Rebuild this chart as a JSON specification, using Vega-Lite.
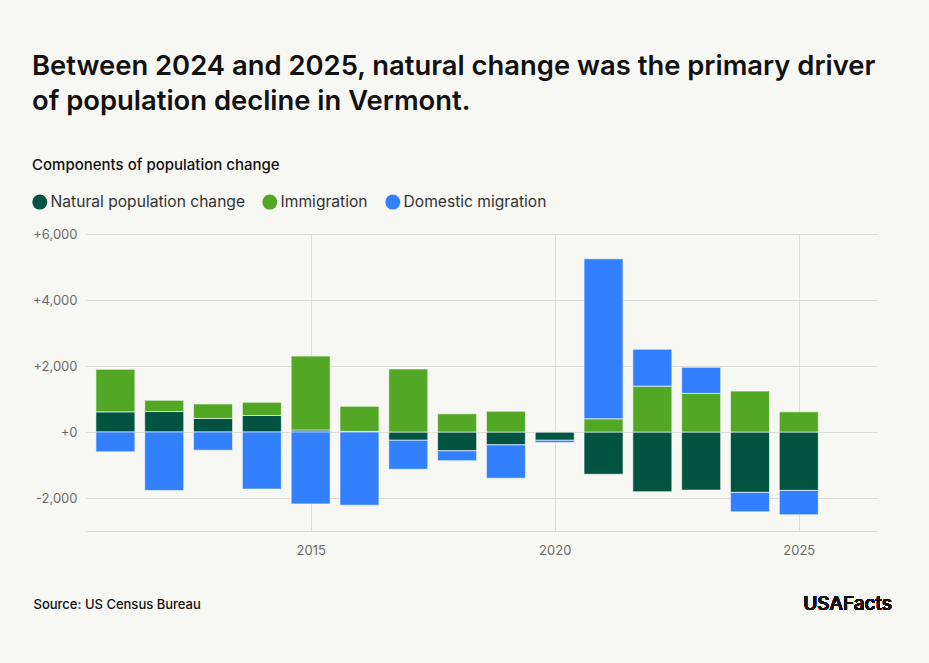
{
  "$schema": "https://vega.github.io/schema/vega-lite/v6.json",
  "width": 791,
  "height": 297,
  "autosize": {"type": "none"},
  "padding": {"left": 86, "top": 234, "right": 52, "bottom": 132},
  "background": "#F7F7F3",
  "title": {
    "text": ["Between 2024 and 2025, natural change was the primary driver", "of population decline in Vermont."],
    "anchor": "start",
    "frame": "bounds",
    "font": "Inter",
    "fontSize": 27.4,
    "fontWeight": 600,
    "color": "#111111",
    "lineHeight": 35,
    "offset": 43
  },
  "config": {
    "view": {"stroke": null},
    "font": "Inter",
    "axis": {
      "labelFont": "Inter",
      "labelFontSize": 13,
      "labelColor": "#6b6b6b",
      "gridColor": "#dcdcd8",
      "domainColor": "#dcdcd8",
      "ticks": false
    }
  },
  "data": {
    "values": [
      {"year": 2011, "component": "Natural population change", "value": 610},
      {"year": 2011, "component": "Immigration", "value": 1290},
      {"year": 2011, "component": "Domestic migration", "value": -600},
      {"year": 2012, "component": "Natural population change", "value": 620},
      {"year": 2012, "component": "Immigration", "value": 340},
      {"year": 2012, "component": "Domestic migration", "value": -1770},
      {"year": 2013, "component": "Natural population change", "value": 410},
      {"year": 2013, "component": "Immigration", "value": 440},
      {"year": 2013, "component": "Domestic migration", "value": -550},
      {"year": 2014, "component": "Natural population change", "value": 500},
      {"year": 2014, "component": "Immigration", "value": 400},
      {"year": 2014, "component": "Domestic migration", "value": -1730},
      {"year": 2015, "component": "Natural population change", "value": 60},
      {"year": 2015, "component": "Immigration", "value": 2240},
      {"year": 2015, "component": "Domestic migration", "value": -2180},
      {"year": 2016, "component": "Natural population change", "value": 20},
      {"year": 2016, "component": "Immigration", "value": 760},
      {"year": 2016, "component": "Domestic migration", "value": -2220},
      {"year": 2017, "component": "Natural population change", "value": -250},
      {"year": 2017, "component": "Immigration", "value": 1910},
      {"year": 2017, "component": "Domestic migration", "value": -880},
      {"year": 2018, "component": "Natural population change", "value": -570},
      {"year": 2018, "component": "Immigration", "value": 550},
      {"year": 2018, "component": "Domestic migration", "value": -300},
      {"year": 2019, "component": "Natural population change", "value": -390},
      {"year": 2019, "component": "Immigration", "value": 630},
      {"year": 2019, "component": "Domestic migration", "value": -1010},
      {"year": 2020, "component": "Natural population change", "value": -250},
      {"year": 2020, "component": "Immigration", "value": 10},
      {"year": 2020, "component": "Domestic migration", "value": -70},
      {"year": 2021, "component": "Natural population change", "value": -1280},
      {"year": 2021, "component": "Immigration", "value": 400},
      {"year": 2021, "component": "Domestic migration", "value": 4850},
      {"year": 2022, "component": "Natural population change", "value": -1810},
      {"year": 2022, "component": "Immigration", "value": 1390},
      {"year": 2022, "component": "Domestic migration", "value": 1120},
      {"year": 2023, "component": "Natural population change", "value": -1760},
      {"year": 2023, "component": "Immigration", "value": 1170},
      {"year": 2023, "component": "Domestic migration", "value": 790},
      {"year": 2024, "component": "Natural population change", "value": -1830},
      {"year": 2024, "component": "Immigration", "value": 1240},
      {"year": 2024, "component": "Domestic migration", "value": -590},
      {"year": 2025, "component": "Natural population change", "value": -1770},
      {"year": 2025, "component": "Immigration", "value": 610},
      {"year": 2025, "component": "Domestic migration", "value": -740}
    ]
  },
  "layer": [
    {
      "mark": {"type": "bar", "width": 39, "stroke": "#ffffff", "strokeWidth": 1, "strokeOpacity": 0.6},
      "encoding": {
        "x": {
          "field": "year",
          "type": "quantitative",
          "scale": {"domain": [2010.5, 2026.5], "nice": false, "zero": false},
          "axis": {
            "values": [2015, 2020, 2025],
            "format": "d",
            "grid": true,
            "domain": true,
            "labelPadding": 13,
            "title": "Source: US Census Bureau",
            "titleFont": "Inter",
            "titleFontSize": 13,
            "titleFontWeight": 500,
            "titleColor": "#111111",
            "titleAnchor": "start",
            "titleAlign": "left",
            "titleBaseline": "middle",
            "titleX": -53,
            "titleY": 73
          }
        },
        "y": {
          "field": "value",
          "type": "quantitative",
          "stack": "zero",
          "scale": {"domain": [-3000, 6000], "nice": false},
          "axis": {
            "values": [-2000, 0, 2000, 4000, 6000],
            "labelExpr": "datum.value > 0 ? '+' + format(datum.value, ',') : (datum.value == 0 ? '+0' : '-' + format(-datum.value, ','))",
            "domain": false,
            "grid": true,
            "labelPadding": 9,
            "title": null
          }
        },
        "color": {
          "field": "component",
          "type": "nominal",
          "scale": {
            "domain": ["Natural population change", "Immigration", "Domestic migration"],
            "range": ["#005440", "#52A825", "#3380FF"]
          },
          "legend": {
            "title": "Components of population change",
            "orient": "none",
            "legendX": -54,
            "legendY": -76,
            "direction": "horizontal",
            "titleFont": "Inter",
            "titleFontSize": 15,
            "titleFontWeight": 500,
            "titleColor": "#111111",
            "titlePadding": 21,
            "titleLimit": 0,
            "labelFont": "Inter",
            "labelFontSize": 15.6,
            "labelColor": "#333333",
            "labelLimit": 0,
            "labelOffset": 3,
            "symbolType": "circle",
            "symbolSize": 225,
            "symbolStrokeWidth": 0,
            "symbolOpacity": 1,
            "columnPadding": 17
          }
        },
        "order": {"field": "component", "sort": "descending"}
      }
    },
    {
      "mark": {"type": "text", "text": "USAFacts", "align": "right", "baseline": "middle", "dx": 20, "dy": 73, "font": "Inter", "fontSize": 19, "fontWeight": 500, "color": "#111111"},
      "encoding": {
        "x": {"datum": 2026.5},
        "y": {"datum": -3000}
      }
    }
  ]
}
